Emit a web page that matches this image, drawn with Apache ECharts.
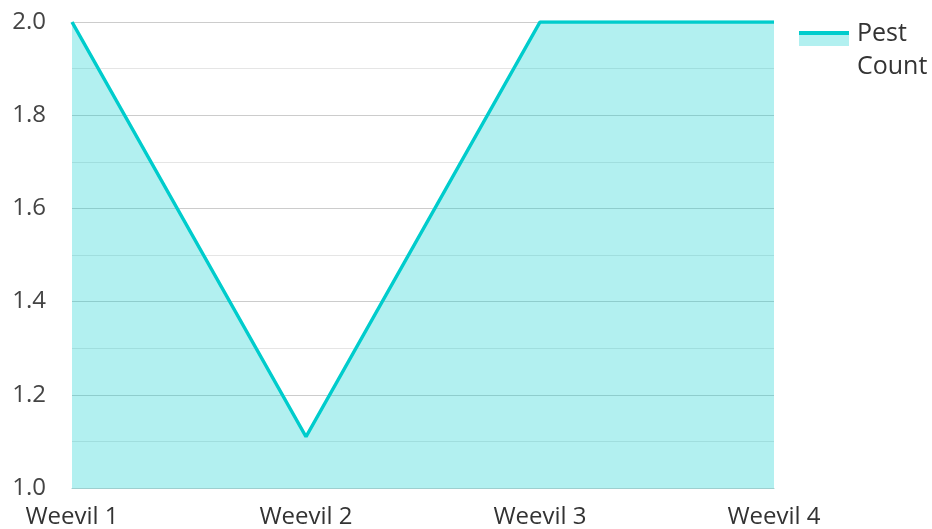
<!DOCTYPE html>
<html>
<head>
<meta charset="utf-8">
<script src="https://cdn.jsdelivr.net/npm/echarts@6/dist/echarts.min.js"></script>
<style>
  html, body { margin: 0; padding: 0; background: #fff; }
  #chart { width: 932px; height: 529px; }
</style>
</head>
<body>
<div id="chart"></div>
<script>
const categories = ['Weevil 1', 'Weevil 2', 'Weevil 3', 'Weevil 4'];
const pestCount = [2.0, 1.11, 2.0, 2.0];
const seriesName = 'Pest Count';

const chart = echarts.init(document.getElementById('chart'));
const font = '"Open Sans", "Noto Sans", sans-serif';

const option = {
  animation: false,
  textStyle: { fontFamily: font },
  grid: { left: 72, right: 158, top: 22, bottom: 41, containLabel: false },
  // legend text only, swatch drawn below with graphic so it sits on the first line
  legend: {
    left: 802,
    top: 17,
    padding: 0,
    orient: 'vertical',
    icon: 'rect',
    itemWidth: 50,
    itemHeight: 15,
    itemStyle: { color: 'rgba(0,0,0,0)', borderWidth: 0 },
    textStyle: { color: '#333', fontSize: 25, lineHeight: 33, fontFamily: font },
    formatter: (name) => name.replace(' ', '\n'),
    data: [seriesName]
  },
  graphic: [
    {
      type: 'rect',
      shape: { x: 799, y: 31, width: 50, height: 15 },
      style: { fill: 'rgba(0,204,204,0.3)' },
      silent: true
    },
    {
      type: 'rect',
      shape: { x: 799, y: 31, width: 50, height: 4 },
      style: { fill: '#00cccc' },
      silent: true
    }
  ],
  xAxis: {
    type: 'category',
    data: categories,
    boundaryGap: false,
    axisLine: { lineStyle: { color: '#9ecfcf', width: 1 } },
    axisTick: { show: false },
    axisLabel: { color: '#333', fontSize: 24, margin: 17, fontFamily: font }
  },
  yAxis: {
    type: 'value',
    min: 1.0,
    max: 2.0,
    interval: 0.2,
    axisLine: { show: false },
    axisTick: { show: false },
    axisLabel: {
      color: '#444',
      fontSize: 24,
      margin: 26,
      fontFamily: font,
      formatter: (v) => v.toFixed(1)
    },
    splitLine: { lineStyle: { color: 'rgba(0,0,0,0.2)', width: 1 } },
    minorTick: { show: false, splitNumber: 2 },
    minorSplitLine: { show: true, lineStyle: { color: 'rgba(0,0,0,0.1)', width: 1 } }
  },
  series: [{
    name: seriesName,
    type: 'line',
    data: pestCount,
    showSymbol: false,
    symbol: 'none',
    lineStyle: { color: '#00cccc', width: 3.5 },
    itemStyle: { color: '#00cccc' },
    areaStyle: { color: 'rgba(0,204,204,0.3)', opacity: 1, origin: 'start' }
  }]
};
chart.setOption(option);
</script>
</body>
</html>
